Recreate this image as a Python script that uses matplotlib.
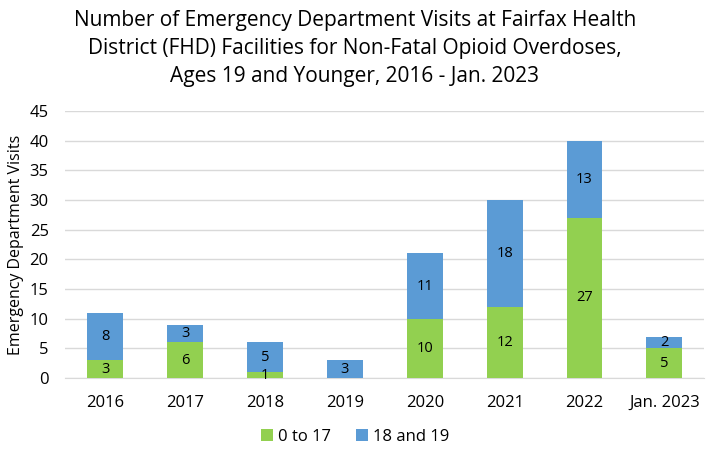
import numpy as np
import matplotlib
matplotlib.use("Agg")
from matplotlib import pyplot as plt

plt.rcParams['font.family'] = ['Open Sans', 'DejaVu Sans']

categorias = ["2016", "2017", "2018", "2019", "2020", "2021", "2022", "Jan. 2023"]
edad_0_17 = [3, 6, 1, 0, 10, 12, 27, 5]
edad_18_19 = [8, 3, 5, 3, 11, 18, 13, 2]
series = ["0 to 17", "18 and 19"]
colores = ["#92D050", "#5B9BD5"]

fig = plt.figure(figsize=(7.1, 4.49), dpi=100)
ax = fig.add_axes([0.092, 0.158, 0.9, 0.595])

x = np.arange(len(categorias))
b1 = ax.bar(x, edad_0_17, 0.45, color=colores[0], label=series[0], zorder=3)
b2 = ax.bar(x, edad_18_19, 0.45, bottom=edad_0_17, color=colores[1], label=series[1], zorder=3)

# etiquetas de datos (sin el cero)
for barras, vals, base in [(b1, edad_0_17, [0]*len(x)), (b2, edad_18_19, edad_0_17)]:
    for xi, v, b in zip(x, vals, base):
        if v == 0:
            continue
        ax.text(xi, b + v/2, str(v), ha='center', va='center', fontsize=10.5, color='#000000', zorder=4)

ax.set_ylim(0, 45)
ax.set_yticks(range(0, 46, 5))
ax.set_xlim(-0.5, len(x) - 0.5)
ax.set_xticks(x)
ax.set_xticklabels(categorias)
ax.tick_params(axis='both', length=0, labelsize=12, colors='#000000')
ax.tick_params(axis='x', pad=12)
ax.tick_params(axis='y', pad=12)
ax.grid(axis='y', color='#D9D9D9', linewidth=1, zorder=0)
for s in ['top', 'right', 'left']:
    ax.spines[s].set_visible(False)
ax.spines['bottom'].set_color('#D9D9D9')
ax.set_ylabel("Emergency Department Visits", fontsize=11.5, labelpad=4)

fig.text(0.5, 0.978, "Number of Emergency Department Visits at Fairfax Health\n"
         "District (FHD) Facilities for Non-Fatal Opioid Overdoses,\n"
         "Ages 19 and Younger, 2016 - Jan. 2023",
         ha='center', va='top', fontsize=15, linespacing=1.45)

fig.legend(handles=[b1, b2], labels=series, loc='center', bbox_to_anchor=(0.5, 0.027),
           ncol=2, frameon=False, fontsize=12, handlelength=0.7, handleheight=0.7,
           handletextpad=0.3, columnspacing=1.5)

fig.savefig("out.png", dpi=100)
